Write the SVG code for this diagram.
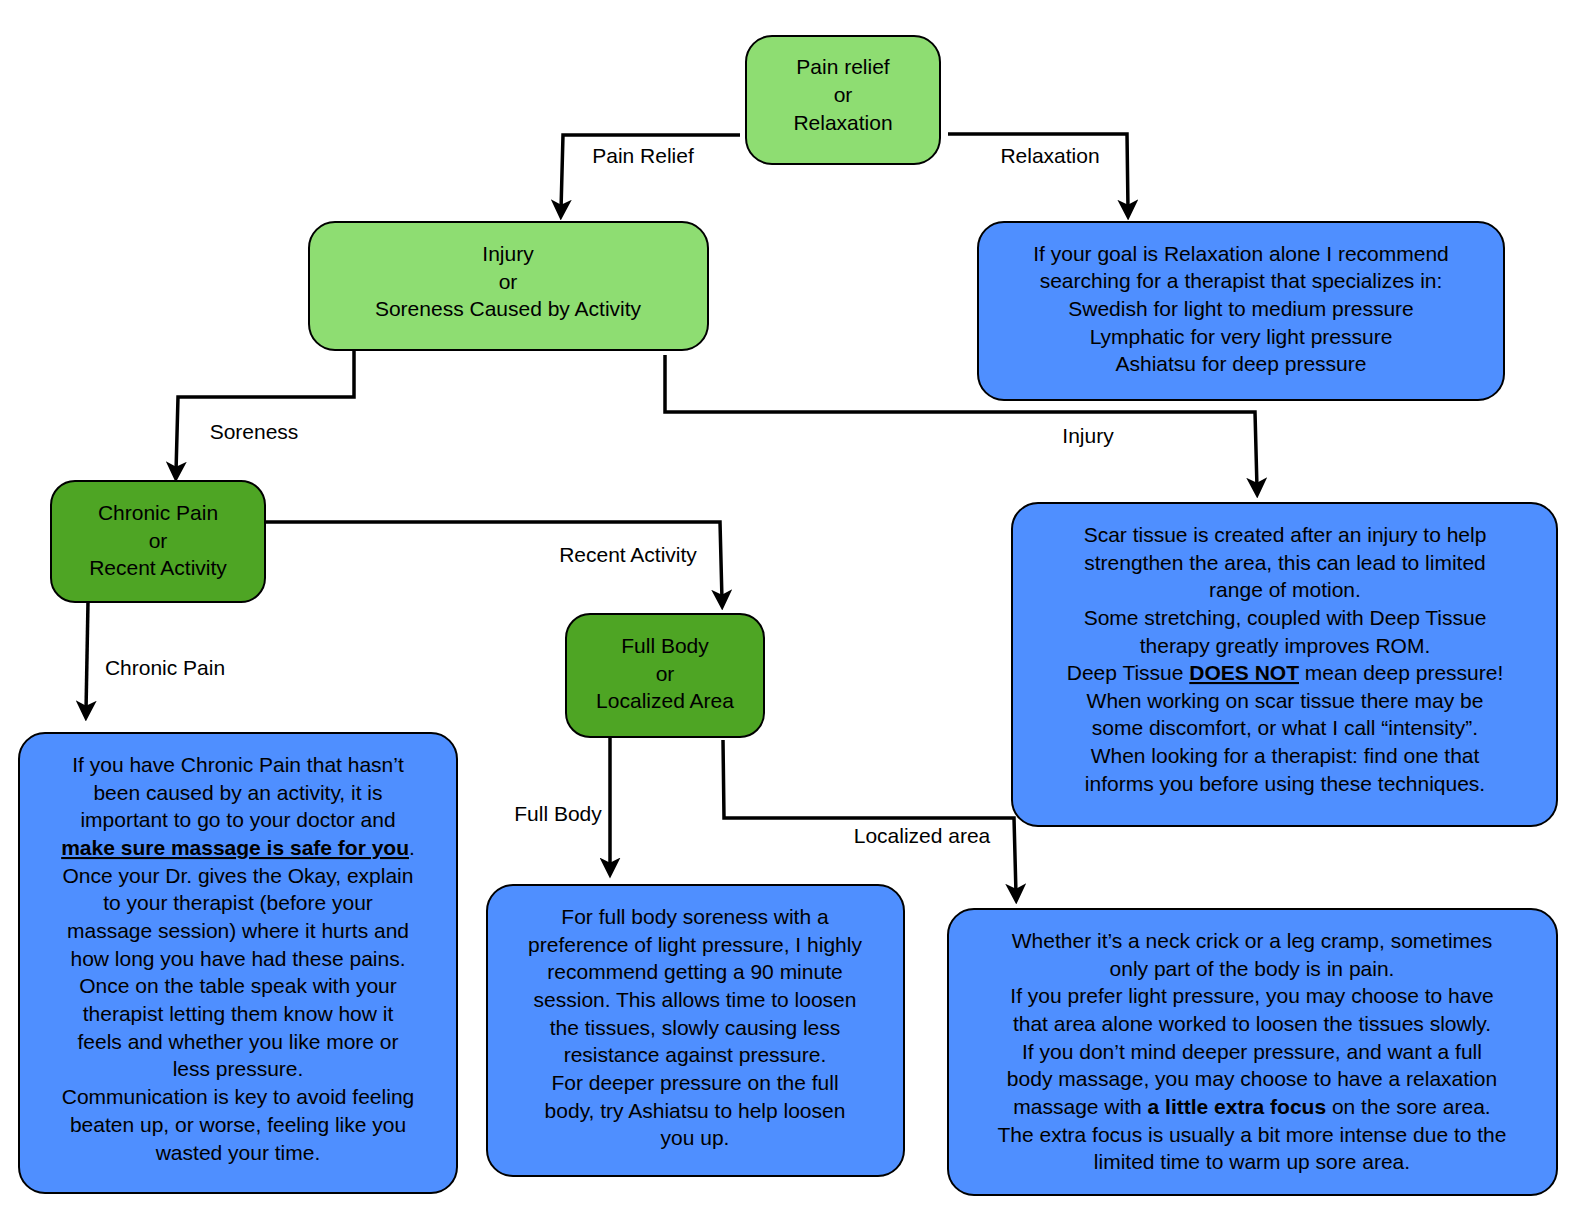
<svg xmlns="http://www.w3.org/2000/svg" width="1584" height="1224" viewBox="0 0 1584 1224">
<style>
text{font-family:"Liberation Sans",Arial,sans-serif;font-size:21px;fill:#000;text-anchor:middle}
.lg{fill:#8EDD72;stroke:#000;stroke-width:2}
.dg{fill:#4EA524;stroke:#000;stroke-width:2}
.bl{fill:#4F8FFF;stroke:#000;stroke-width:2}
.c{fill:none;stroke:#000;stroke-width:3.5}
.lb{text-anchor:start}
</style>
<defs><marker id="a" markerWidth="6" markerHeight="6" refX="3" refY="3" orient="auto" markerUnits="strokeWidth"><path d="M0,0L6,3L0,6L1.5,3Z" fill="#000"/></marker></defs>
<rect width="1584" height="1224" fill="#fff"/>
<g id="connectors">
<path class="c" marker-end="url(#a)" d="M740,135H563L561,210"/>
<path class="c" marker-end="url(#a)" d="M948,134H1127L1128,210"/>
<path class="c" marker-end="url(#a)" d="M354,350V397H178L176,472"/>
<path class="c" marker-end="url(#a)" d="M665,355V412H1255L1257,488"/>
<path class="c" marker-end="url(#a)" d="M265,522H720L722,600"/>
<path class="c" marker-end="url(#a)" d="M88,602L86,711"/>
<path class="c" marker-end="url(#a)" d="M610,737V868"/>
<path class="c" marker-end="url(#a)" d="M723,740L724,818H1014L1016,894"/>
<text x="643" y="163">Pain Relief</text>
<text x="1050" y="163">Relaxation</text>
<text x="254" y="439">Soreness</text>
<text x="1088" y="443">Injury</text>
<text x="628" y="562">Recent Activity</text>
<text x="165" y="675">Chronic Pain</text>
<text x="558" y="821">Full Body</text>
<text x="922" y="843">Localized area</text>
</g>
<g id="n1"><rect class="lg" x="746" y="36" width="194" height="128" rx="26"/>
<text x="843" y="74">Pain relief</text><text x="843" y="102">or</text><text x="843" y="130">Relaxation</text></g>
<g id="n2"><rect class="lg" x="309" y="222" width="399" height="128" rx="26"/>
<text x="508" y="261">Injury</text><text x="508" y="289">or</text><text x="508" y="316">Soreness Caused by Activity</text></g>
<g id="n3"><rect class="bl" x="978" y="222" width="526" height="178" rx="26"/>
<text x="1241" y="261">If your goal is Relaxation alone I recommend</text>
<text x="1241" y="288">searching for a therapist that specializes in:</text>
<text x="1241" y="316">Swedish for light to medium pressure</text>
<text x="1241" y="344">Lymphatic for very light pressure</text>
<text x="1241" y="371">Ashiatsu for deep pressure</text></g>
<g id="n4"><rect class="dg" x="51" y="481" width="214" height="121" rx="24"/>
<text x="158" y="520">Chronic Pain</text><text x="158" y="548">or</text><text x="158" y="575">Recent Activity</text></g>
<g id="n5"><rect class="bl" x="1012" y="503" width="545" height="323" rx="26"/>
<text x="1285" y="542">Scar tissue is created after an injury to help</text>
<text x="1285" y="570">strengthen the area, this can lead to limited</text>
<text x="1285" y="597">range of motion.</text>
<text x="1285" y="625">Some stretching, coupled with Deep Tissue</text>
<text x="1285" y="653">therapy greatly improves ROM.</text>
<text x="1285" y="680">Deep Tissue <tspan font-weight="bold" text-decoration="underline">DOES NOT</tspan> mean deep pressure!</text>
<text x="1285" y="708">When working on scar tissue there may be</text>
<text x="1285" y="735">some discomfort, or what I call “intensity”.</text>
<text x="1285" y="763">When looking for a therapist: find one that</text>
<text x="1285" y="791">informs you before using these techniques.</text></g>
<g id="n6"><rect class="dg" x="566" y="614" width="198" height="123" rx="24"/>
<text x="665" y="653">Full Body</text><text x="665" y="681">or</text><text x="665" y="708">Localized Area</text></g>
<g id="n7"><rect class="bl" x="19" y="733" width="438" height="460" rx="26"/>
<text x="238" y="772">If you have Chronic Pain that hasn’t</text>
<text x="238" y="800">been caused by an activity, it is</text>
<text x="238" y="827">important to go to your doctor and</text>
<text x="238" y="855"><tspan font-weight="bold" text-decoration="underline">make sure massage is safe for you</tspan>.</text>
<text x="238" y="883">Once your Dr. gives the Okay, explain</text>
<text x="238" y="910">to your therapist (before your</text>
<text x="238" y="938">massage session) where it hurts and</text>
<text x="238" y="966">how long you have had these pains.</text>
<text x="238" y="993">Once on the table speak with your</text>
<text x="238" y="1021">therapist letting them know how it</text>
<text x="238" y="1049">feels and whether you like more or</text>
<text x="238" y="1076">less pressure.</text>
<text x="238" y="1104">Communication is key to avoid feeling</text>
<text x="238" y="1132">beaten up, or worse, feeling like you</text>
<text x="238" y="1160">wasted your time.</text></g>
<g id="n8"><rect class="bl" x="487" y="885" width="417" height="291" rx="26"/>
<text x="695" y="924">For full body soreness with a</text>
<text x="695" y="952">preference of light pressure, I highly</text>
<text x="695" y="979">recommend getting a 90 minute</text>
<text x="695" y="1007">session. This allows time to loosen</text>
<text x="695" y="1035">the tissues, slowly causing less</text>
<text x="695" y="1062">resistance against pressure.</text>
<text x="695" y="1090">For deeper pressure on the full</text>
<text x="695" y="1118">body, try Ashiatsu to help loosen</text>
<text x="695" y="1145">you up.</text></g>
<g id="n9"><rect class="bl" x="948" y="909" width="609" height="286" rx="26"/>
<text x="1252" y="948">Whether it’s a neck crick or a leg cramp, sometimes</text>
<text x="1252" y="976">only part of the body is in pain.</text>
<text x="1252" y="1003">If you prefer light pressure, you may choose to have</text>
<text x="1252" y="1031">that area alone worked to loosen the tissues slowly.</text>
<text x="1252" y="1059">If you don’t mind deeper pressure, and want a full</text>
<text x="1252" y="1086">body massage, you may choose to have a relaxation</text>
<text x="1252" y="1114">massage with <tspan font-weight="bold">a little extra focus</tspan> on the sore area.</text>
<text x="1252" y="1142">The extra focus is usually a bit more intense due to the</text>
<text x="1252" y="1169">limited time to warm up sore area.</text></g>
</svg>
